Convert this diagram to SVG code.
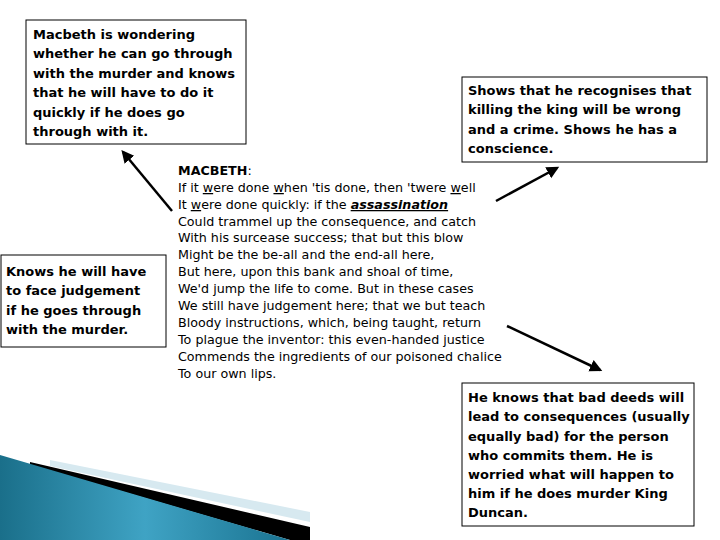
<svg xmlns="http://www.w3.org/2000/svg" width="720" height="540" viewBox="0 0 720 540">
<style>
.box{fill:#fff;stroke:#000;stroke-width:1}
.bt{font-family:"DejaVu Sans",sans-serif;font-weight:bold;font-size:13px;fill:#000}
.pt{font-family:"DejaVu Sans",sans-serif;font-size:12.7px;fill:#000}
.u{text-decoration:underline}
.con{stroke:#000;stroke-width:2.5;fill:none;marker-end:url(#ah)}
</style>
<defs>
<marker id="ah" markerWidth="6" markerHeight="6" refX="4" refY="3" orient="auto" markerUnits="strokeWidth"><path d="M0,0.5 L5,3 L0,5.5 z" fill="#000"/></marker>
<linearGradient id="bl" x1="0" y1="0" x2="1" y2="0"><stop offset="0" stop-color="#1a6f8a"/><stop offset="0.5" stop-color="#3fa3c4"/><stop offset="1" stop-color="#1a7391"/></linearGradient>
</defs>
<rect width="720" height="540" fill="#fff"/>
<g id="deco">
<polygon points="50,460 310,512 310,522 50,466" fill="#d7e9f0"/>
<polygon points="30,462 310,527 310,540 290,540 30,465" fill="#000"/>
<polygon points="0,455 290,540 0,540" fill="url(#bl)"/>
</g>
<g id="connectors">
<line class="con" x1="172" y1="211" x2="123" y2="152"/>
<line class="con" x1="496" y1="201" x2="557" y2="168"/>
<line class="con" x1="507" y1="326" x2="600" y2="370"/>
</g>
<g id="n1">
<rect class="box" x="26" y="20" width="220" height="124"/>
<text class="bt" x="33" y="39">Macbeth is wondering<tspan x="33" y="58">whether he can go through</tspan><tspan x="33" y="78">with the murder and knows</tspan><tspan x="33" y="97">that he will have to do it</tspan><tspan x="33" y="117">quickly if he does go</tspan><tspan x="33" y="136">through with it.</tspan></text>
</g>
<g id="n2">
<rect class="box" x="462" y="77" width="245" height="85"/>
<text class="bt" x="468" y="95">Shows that he recognises that<tspan x="468" y="114">killing the king will be wrong</tspan><tspan x="468" y="134">and a crime. Shows he has a</tspan><tspan x="468" y="153">conscience.</tspan></text>
</g>
<g id="n3">
<rect class="box" x="1" y="255" width="165" height="92"/>
<text class="bt" x="6" y="276">Knows he will have<tspan x="6" y="295">to face judgement</tspan><tspan x="6" y="315">if he goes through</tspan><tspan x="6" y="334">with the murder.</tspan></text>
</g>
<g id="n4">
<rect class="box" x="462" y="383" width="232" height="143"/>
<text class="bt" x="468" y="402">He knows that bad deeds will<tspan x="468" y="421">lead to consequences (usually</tspan><tspan x="468" y="441">equally bad) for the person</tspan><tspan x="468" y="460">who commits them. He is</tspan><tspan x="468" y="479">worried what will happen to</tspan><tspan x="468" y="498">him if he does murder King</tspan><tspan x="468" y="517">Duncan.</tspan></text>
</g>
<g id="poem">
<text class="pt" x="178" y="175"><tspan font-weight="bold">MACBETH</tspan>:</text>
<text class="pt" x="178" y="192">If it <tspan class="u">w</tspan>ere done <tspan class="u">w</tspan>hen 'tis done, then 'twere <tspan class="u">w</tspan>ell</text>
<text class="pt" x="178" y="209">It <tspan class="u">w</tspan>ere done quickly: if the <tspan class="u" font-weight="bold" font-style="italic">assassination</tspan></text>
<text class="pt" x="178" y="226">Could trammel up the consequence, and catch</text>
<text class="pt" x="178" y="242">With his surcease success; that but this blow</text>
<text class="pt" x="178" y="259">Might be the be-all and the end-all here,</text>
<text class="pt" x="178" y="276">But here, upon this bank and shoal of time,</text>
<text class="pt" x="178" y="293">We'd jump the life to come. But in these cases</text>
<text class="pt" x="178" y="310">We still have judgement here; that we but teach</text>
<text class="pt" x="178" y="327">Bloody instructions, which, being taught, return</text>
<text class="pt" x="178" y="344">To plague the inventor: this even-handed justice</text>
<text class="pt" x="178" y="361">Commends the ingredients of our poisoned chalice</text>
<text class="pt" x="178" y="378">To our own lips.</text>
</g>
</svg>
